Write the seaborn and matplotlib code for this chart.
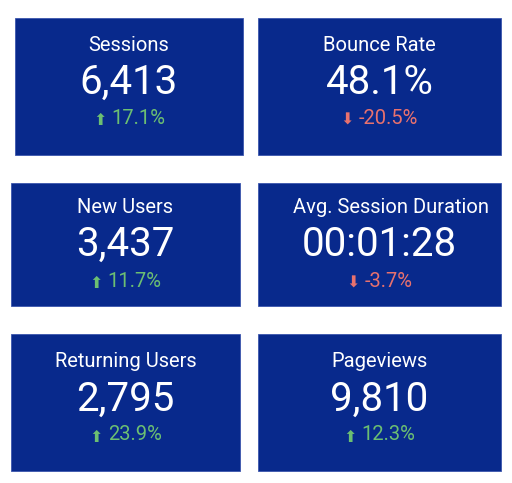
import matplotlib
matplotlib.use("Agg")
import matplotlib.pyplot as plt
import seaborn as sns
from matplotlib.patches import Rectangle

# scorecard data
metrics = ["Sessions", "Bounce Rate", "New Users", "Avg. Session Duration",
           "Returning Users", "Pageviews"]
values = ["6,413", "48.1%", "3,437", "00:01:28", "2,795", "9,810"]
changes = [17.1, -20.5, 11.7, -3.7, 23.9, 12.3]

sns.set_theme(style="white")
plt.rcParams['font.family'] = ['Roboto', 'DejaVu Sans']

card_col = '#08298c'
up_col = '#6cbf72'
down_col = '#e8716e'

# card boxes in pixels (x0, y0, x1, y1), y measured from top
boxes = [(15, 18, 243, 155), (258, 18, 501, 155),
         (10.5, 183, 240, 306), (258, 183, 501, 306),
         (11, 334, 240, 471), (258, 334, 501, 471)]
# baselines of title / value / change for each row
rows_y = [(50.7, 94, 124), (213, 256, 287), (367, 410.7, 440.5)]

fig = plt.figure(figsize=(5.12, 4.83), dpi=100)
fig.patch.set_facecolor('white')
ax = fig.add_axes([0, 0, 1, 1])
ax.set_xlim(0, 512)
ax.set_ylim(483, 0)
ax.axis('off')

change_texts = []
for i, (name, val, ch) in enumerate(zip(metrics, values, changes)):
    x0, y0, x1, y1 = boxes[i]
    ax.add_patch(Rectangle((x0, y0), x1 - x0, y1 - y0, facecolor=card_col,
                           edgecolor='#3b55ad', linewidth=0.6))
    ty, vy, cy = rows_y[i // 2]
    cx = (x0 + x1) / 2
    tx = cx
    if name == "Avg. Session Duration":
        tx = 391
    ax.text(tx, ty, name, color='white', fontsize=14.5, ha='center', va='baseline')
    ax.text(cx, vy, val, color='white', fontsize=29, ha='center', va='baseline')
    col = up_col if ch > 0 else down_col
    label = f"{ch:.1f}%"
    t = ax.text(cx, cy, label, color=col, fontsize=14.5, ha='left', va='baseline')
    a = ax.text(cx, cy + 1, '⬆' if ch > 0 else '⬇', color=col, fontsize=11.5,
                family='DejaVu Sans', ha='left', va='baseline')
    change_texts.append((cx, t, a))

# center arrow + change value as one group
fig.canvas.draw()
r = fig.canvas.get_renderer()
for cx, t, a in change_texts:
    wt = t.get_window_extent(r).width * 512 / fig.bbox.width
    wa = a.get_window_extent(r).width * 512 / fig.bbox.width
    gap = 5
    left = cx - (wa + gap + wt) / 2
    a.set_x(left)
    t.set_x(left + wa + gap)

plt.savefig('out.png', dpi=100, facecolor='white')
